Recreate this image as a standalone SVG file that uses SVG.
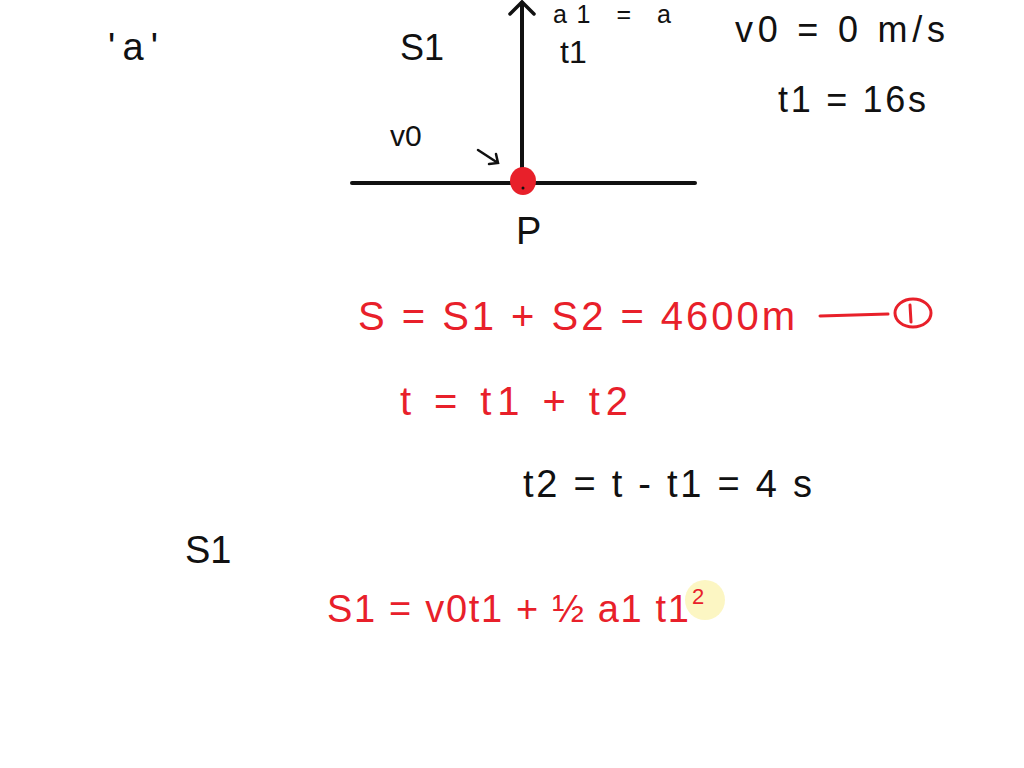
<svg xmlns="http://www.w3.org/2000/svg" width="1024" height="768" viewBox="0 0 1024 768">
<defs>
<style>
.t{font-family:"Liberation Sans","DejaVu Sans",sans-serif;fill:#111}
.r{font-family:"Liberation Sans","DejaVu Sans",sans-serif;fill:#e8202a}
.ln{stroke:#111;stroke-width:4;fill:none;stroke-linecap:round}
.rl{stroke:#e8202a;stroke-width:3;fill:none;stroke-linecap:round}
</style>
</defs>
<rect width="1024" height="768" fill="#fff"/>
<g id="connectors">
<line class="ln" x1="352" y1="183" x2="695" y2="183"/>
<line class="ln" x1="522" y1="183" x2="522" y2="3" stroke-width="3.5"/>
<path d="M510 14 L522 2 L534 14" stroke="#111" stroke-width="3.5" fill="none" stroke-linecap="round"/>
<path d="M478 150 L498 163 M489 164 L498 163 L496 154" stroke="#111" stroke-width="2.5" fill="none" stroke-linecap="round"/>
</g>
<g id="point-P">
<ellipse cx="523" cy="181" rx="13" ry="14" fill="#e8202a"/>
<circle cx="523" cy="188" r="1.5" fill="#111"/>
<text class="t" x="516" y="244" font-size="38">P</text>
</g>
<g id="labels-top">
<text class="t" x="108" y="60" font-size="38" textLength="50" lengthAdjust="spacing">'a'</text>
<text class="t" x="553" y="23" font-size="25" textLength="118" lengthAdjust="spacing">a1 = a</text>
<text class="t" x="400" y="60" font-size="36">S1</text>
<text class="t" x="560" y="63" font-size="32">t1</text>
<text class="t" x="390" y="146" font-size="30">v0</text>
<text class="t" x="735" y="42" font-size="36" textLength="210" lengthAdjust="spacing">v0 = 0 m/s</text>
<text class="t" x="778" y="112" font-size="36" textLength="148" lengthAdjust="spacing">t1 = 16s</text>
</g>
<g id="equations">
<text class="r" x="358" y="330" font-size="40" textLength="437" lengthAdjust="spacing">S = S1 + S2 = 4600m</text>
<line class="rl" x1="820" y1="316" x2="888" y2="314"/>
<ellipse cx="913" cy="313" rx="18" ry="14" class="rl"/>
<line class="rl" x1="910" y1="305" x2="911" y2="322" stroke-width="2.5"/>
<text class="r" x="400" y="415" font-size="40" textLength="228" lengthAdjust="spacing">t = t1 + t2</text>
<text class="t" x="523" y="497" font-size="38" textLength="289" lengthAdjust="spacing">t2 = t - t1 = 4 s</text>
<text class="t" x="185" y="563" font-size="38">S1</text>
<circle cx="705" cy="600" r="20" fill="#fbf5b8" opacity="0.85"/>
<text class="r" x="327" y="622" font-size="38" textLength="362" lengthAdjust="spacing">S1 = v0t1 + ½ a1 t1</text>
<text class="r" x="692" y="604" font-size="22">2</text>
</g>
</svg>
